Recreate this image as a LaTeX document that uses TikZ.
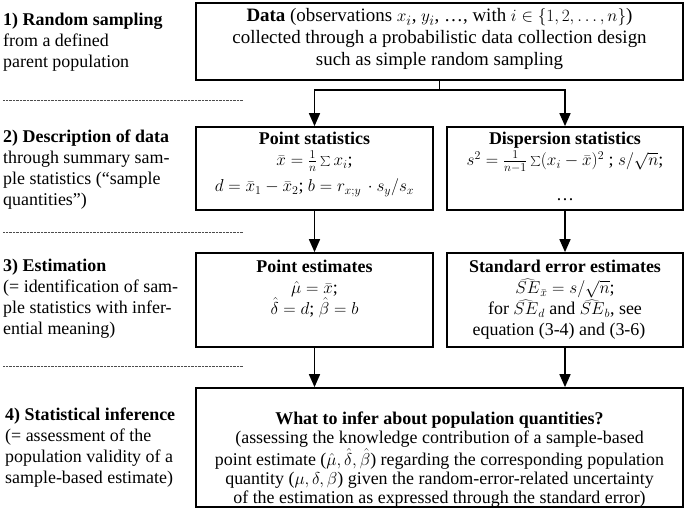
\documentclass[tikz,border=0pt]{standalone}
\usepackage{fontspec}
\setmainfont{Liberation Serif}
\usetikzlibrary{arrows.meta}
\newcommand\fsz{\fontsize{18}{21}\selectfont}
\newcommand\fszdata{\fontsize{19}{22}\selectfont}
\newcommand\fszinf{\fontsize{18}{19.5}\selectfont}
\tikzset{
 box/.style={draw, line width=1.7bp, inner sep=0pt},
 txt/.style={align=center, inner sep=0pt, anchor=north, font=\fsz},
 side/.style={align=left, inner sep=0pt, anchor=north west, font=\fsz},
 conn/.style={line width=1.6bp},
 arr/.style={conn, -{Triangle[width=11bp,length=13bp]}},
 sepline/.style={line width=0.7bp, dash pattern=on 0.7bp off 0.7bp, black!70}
}
\begin{document}
\begin{tikzpicture}[x=1bp,y=-1bp]
\useasboundingbox (0,0) rectangle (685,521);
% boxes
\node[box, minimum width=487bp, minimum height=77bp] (data) at (439.5,41.5) {};
\node[box, minimum width=237bp, minimum height=83bp] (pstat) at (314.5,168.5) {};
\node[box, minimum width=236bp, minimum height=83bp] (disp) at (565,168.5) {};
\node[box, minimum width=237bp, minimum height=94bp] (pest) at (314.5,300) {};
\node[box, minimum width=236bp, minimum height=94bp] (se) at (565,300) {};
\node[box, minimum width=487bp, minimum height=119bp] (infer) at (439.5,447.5) {};
% box texts
\node[txt, font=\fszdata] (tdata) at (439.5,8.5) {\textbf{Data} (observations $x_i$, $y_i$, \dots, with $i \in \{1, 2, \dots, n\}$)\\
collected through a probabilistic data collection design\\
such as simple random sampling};
\node[txt] (tpstat) at (314.5,132) {\textbf{Point statistics}\\
$\bar{x} = \frac{1}{n}\sum x_i$;\\[5bp]
$d = \bar{x}_1 - \bar{x}_2$; $b = r_{x;y}\,\cdot s_y/s_x$};
\node[txt] (tdisp) at (565,132) {\textbf{Dispersion statistics}\\
$s^2 = \frac{1}{n-1}\sum (x_i - \bar{x})^2$ ; $s/\sqrt{n}$;\\[14bp]
\dots};
\node[txt] (tpest) at (314.5,260) {\textbf{Point estimates}\\
$\hat{\mu} = \bar{x}$;\\
$\hat{\delta} = d$; $\hat{\beta} = b$};
\node[txt] (tse) at (565,260) {\textbf{Standard error estimates}\\
$\widehat{SE}_{\bar{x}} = s/\sqrt{n}$;\\
for $\widehat{SE}_d$ and $\widehat{SE}_b$, see\\
equation (3-4) and (3-6)\hspace*{12bp}};
\node[txt, font=\fszinf] (tinfer) at (439.5,411.5) {\textbf{What to infer about population quantities?}\\
(assessing the knowledge contribution of a sample-based\\
point estimate ($\hat{\mu}, \hat{\delta}, \hat{\beta}$) regarding the corresponding population\\
quantity ($\mu, \delta, \beta$) given the random-error-related uncertainty\\
of the estimation as expressed through the standard error)};
% side texts
\node[side] (s1) at (3,13) {\textbf{1) Random sampling}\\from a defined\\parent population};
\node[side] (s2) at (3,129.5) {\textbf{2) Description of data}\\through summary sam-\\ple statistics (“sample\\quantities”)};
\node[side] (s3) at (3,259) {\textbf{3) Estimation}\\(= identification of sam-\\ple statistics with infer-\\ential meaning)};
\node[side] (s4) at (5,407.5) {\textbf{4) Statistical inference}\\(= assessment of the\\population validity of a\\sample-based estimate)};
% separators
\coordinate (d1a) at (3,100); \coordinate (d1b) at (243,100);
\coordinate (d2a) at (3,232); \coordinate (d2b) at (243,232);
\coordinate (d3a) at (3,366); \coordinate (d3b) at (243,366);
\draw[sepline] (d1a) -- (d1b);
\draw[sepline] (d2a) -- (d2b);
\draw[sepline] (d3a) -- (d3b);
% connectors
\coordinate (split) at (439.5,90);
\draw[conn] (data.south) -- (split);
\draw[arr] (split) -| (pstat.north);
\draw[arr] (split) -| (disp.north);
\draw[arr] (pstat.south) -- (pest.north);
\draw[arr] (disp.south) -- (se.north);
\draw[arr] (pest.south) -- (pest.south |- infer.north);
\draw[arr] (se.south) -- (se.south |- infer.north);
\end{tikzpicture}
\end{document}
